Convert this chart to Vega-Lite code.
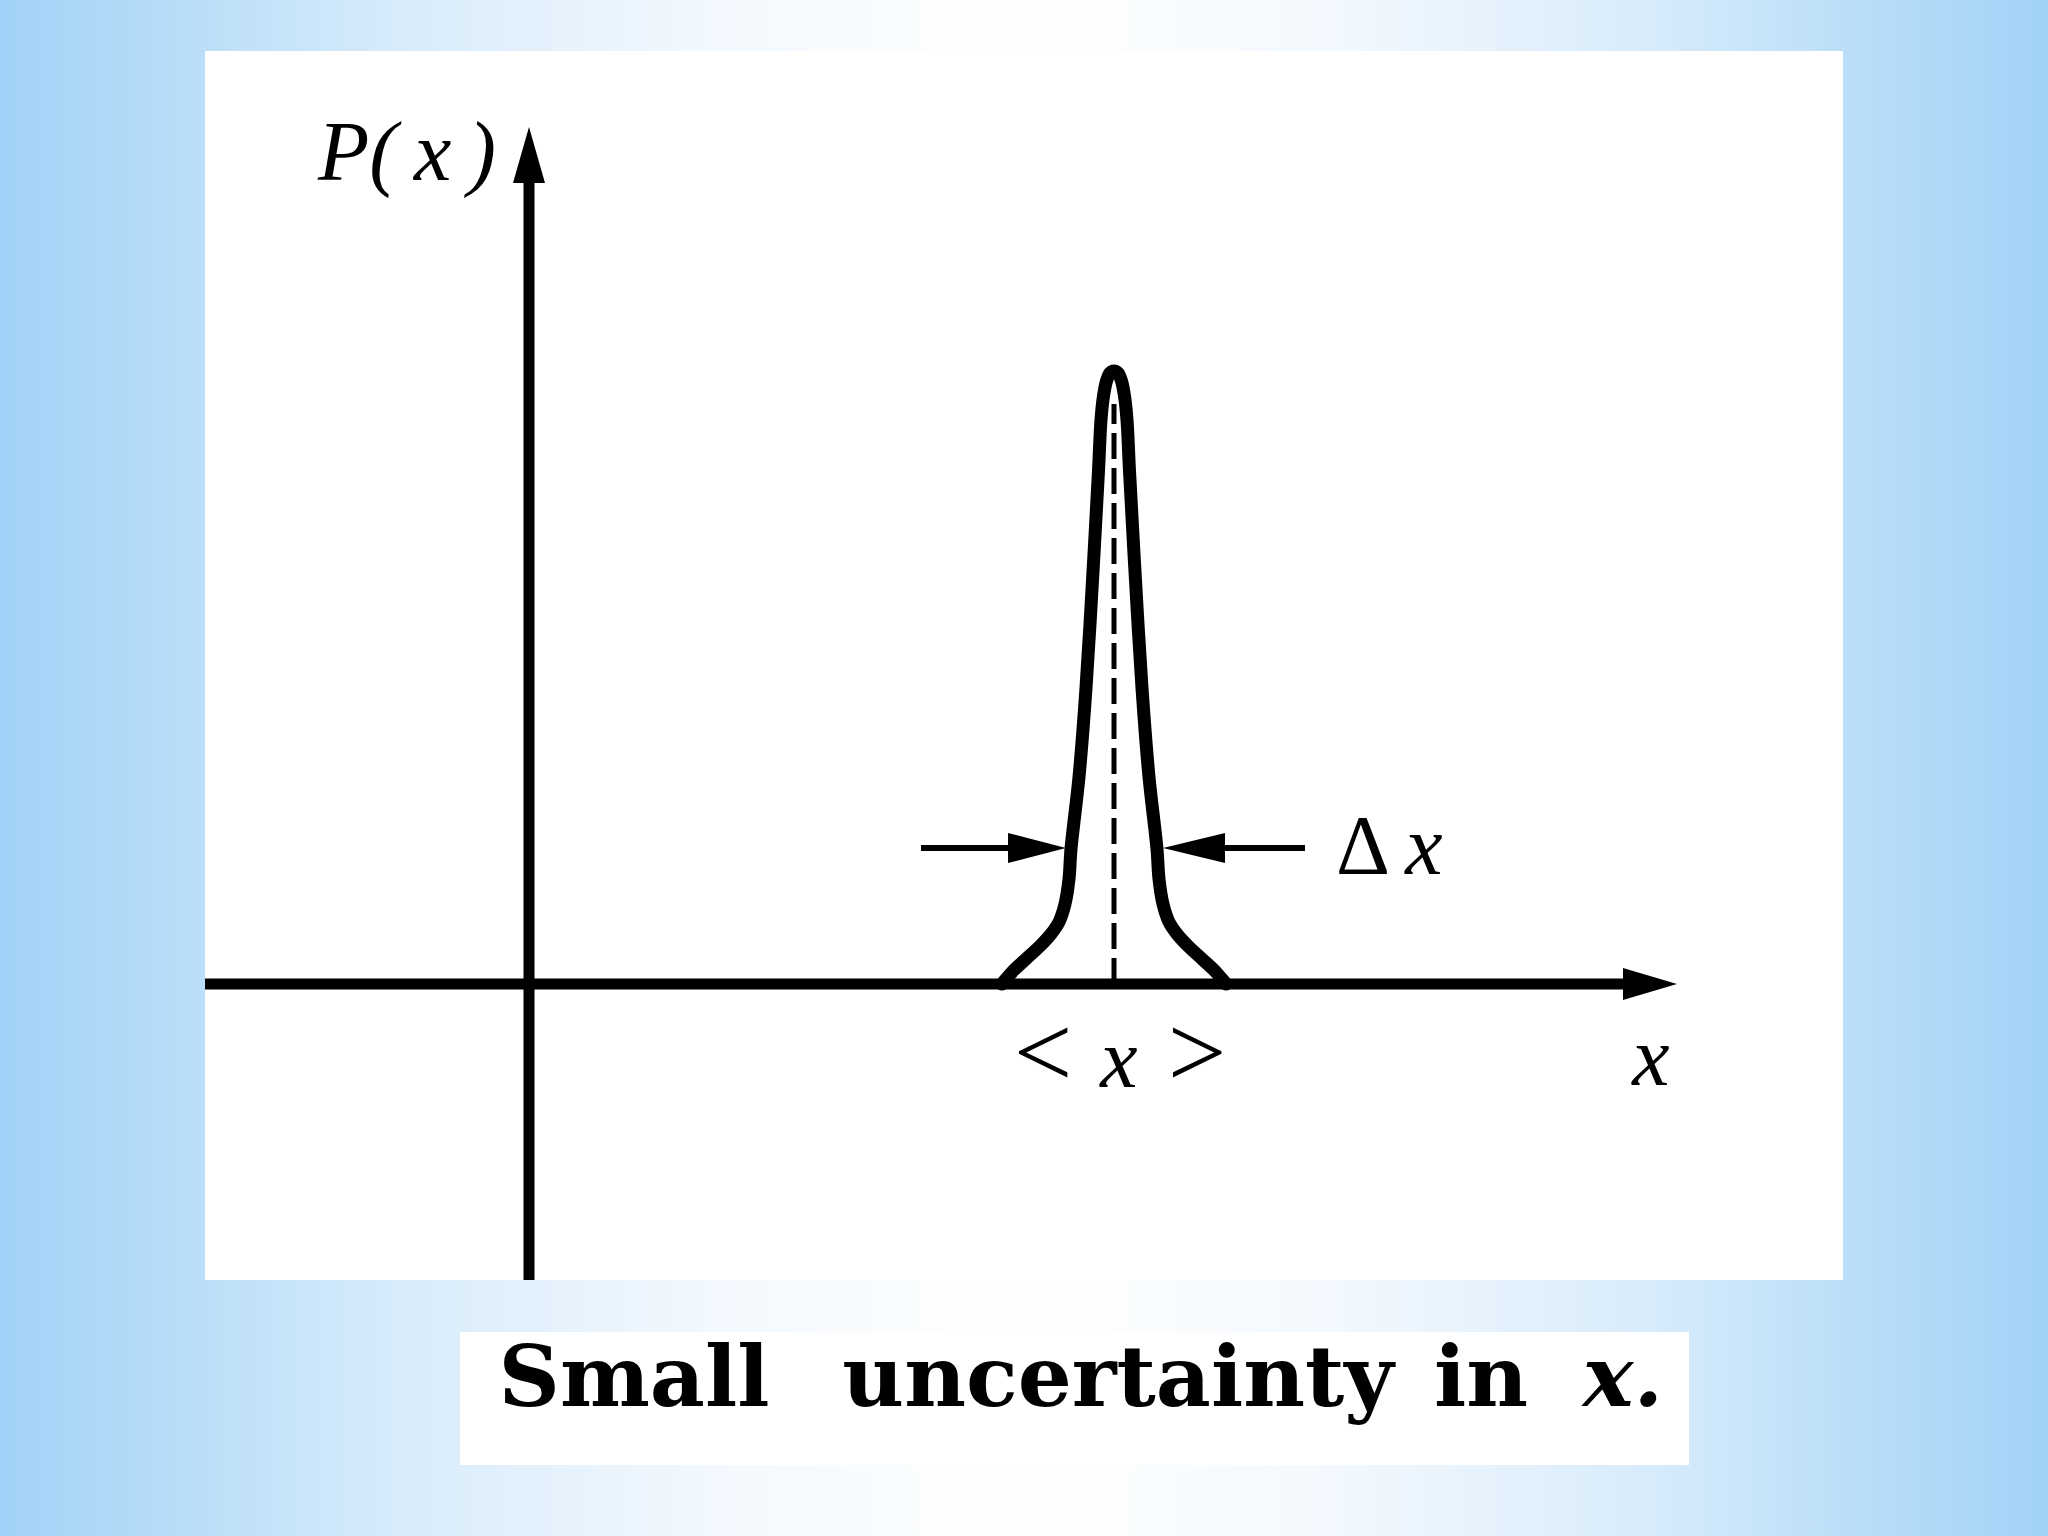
{
  "$schema": "https://vega.github.io/schema/vega-lite/v6.json",
  "autosize": {"type": "fit", "contains": "padding"},
  "width": 2048,
  "height": 1536,
  "padding": 0,
  "background": "#ffffff",
  "config": {"view": {"stroke": null}},
  "datasets": {
    "bg": [{"x": -5.29, "x2": 15.19, "y": -5.52, "y2": 9.84}],
    "panel": [{"x": -3.24, "x2": 13.14, "y": -2.96, "y2": 9.33}],
    "captionbox": [{"x": -0.69, "x2": 11.6, "y": -4.81, "y2": -3.48}],
    "axes": [
      {"x": -3.24, "x2": 11.0, "y": 0, "y2": 0},
      {"x": 0, "x2": 0, "y": -2.96, "y2": 8.05}
    ],
    "indicators": [
      {"x": 3.92, "x2": 4.9, "y": 1.36, "y2": 1.36},
      {"x": 6.85, "x2": 7.76, "y": 1.36, "y2": 1.36}
    ],
    "meanline": [{"x": 5.85, "x2": 5.85, "y": 0, "y2": 5.8}],
    "heads_h": [
      {"g": "xaxis", "x": 10.94, "lo": -0.16, "hi": 0.16},
      {"g": "xaxis", "x": 11.48, "lo": 0, "hi": 0},
      {"g": "left", "x": 4.79, "lo": 1.21, "hi": 1.51},
      {"g": "left", "x": 5.37, "lo": 1.36, "hi": 1.36},
      {"g": "right", "x": 6.34, "lo": 1.36, "hi": 1.36},
      {"g": "right", "x": 6.96, "lo": 1.21, "hi": 1.51}
    ],
    "heads_v": [
      {"y": 8.01, "lo": -0.16, "hi": 0.16},
      {"y": 8.57, "lo": 0, "hi": 0}
    ],
    "curve": [
      {"x": 4.73, "p": 0},
      {"x": 4.77, "p": 0.05},
      {"x": 4.85, "p": 0.14},
      {"x": 4.98, "p": 0.26},
      {"x": 5.11, "p": 0.38},
      {"x": 5.22, "p": 0.5},
      {"x": 5.3, "p": 0.62},
      {"x": 5.36, "p": 0.8},
      {"x": 5.4, "p": 1.05},
      {"x": 5.42, "p": 1.35},
      {"x": 5.5, "p": 2.07},
      {"x": 5.57, "p": 2.96},
      {"x": 5.65, "p": 4.3},
      {"x": 5.695, "p": 5.13},
      {"x": 5.72, "p": 5.64},
      {"x": 5.745, "p": 5.88},
      {"x": 5.775, "p": 6.03},
      {"x": 5.81, "p": 6.11},
      {"x": 5.85, "p": 6.13},
      {"x": 5.89, "p": 6.11},
      {"x": 5.925, "p": 6.03},
      {"x": 5.955, "p": 5.88},
      {"x": 5.98, "p": 5.64},
      {"x": 6.005, "p": 5.13},
      {"x": 6.05, "p": 4.3},
      {"x": 6.13, "p": 2.96},
      {"x": 6.2, "p": 2.07},
      {"x": 6.28, "p": 1.35},
      {"x": 6.3, "p": 1.05},
      {"x": 6.34, "p": 0.8},
      {"x": 6.4, "p": 0.62},
      {"x": 6.48, "p": 0.5},
      {"x": 6.59, "p": 0.38},
      {"x": 6.72, "p": 0.26},
      {"x": 6.85, "p": 0.14},
      {"x": 6.93, "p": 0.05},
      {"x": 6.97, "p": 0}
    ],
    "italic_labels": [
      {"t": "P(\u2009x\u2009)", "x": -1.22, "y": 8.04},
      {"t": "x", "x": 8.95, "y": 1.1},
      {"t": "x", "x": 5.9, "y": -1.03},
      {"t": "x", "x": 11.22, "y": -1.01}
    ],
    "upright_labels": [
      {"t": "Δ", "x": 8.34, "y": 1.1}
    ],
    "brackets": [
      {"t": "<", "x": 5.14, "y": -1.03},
      {"t": ">", "x": 6.68, "y": -1.03}
    ],
    "caption_words": [
      {"t": "Small", "x": 1.05, "y": -4.22},
      {"t": "uncertainty", "x": 5.89, "y": -4.22},
      {"t": "in", "x": 9.52, "y": -4.22}
    ],
    "caption_italic": [
      {"t": "x.", "x": 10.94, "y": -4.22}
    ]
  },
  "layer": [
    {
      "data": {"name": "bg"},
      "mark": {
        "type": "rect",
        "fill": {
          "gradient": "linear",
          "x1": 0, "x2": 1, "y1": 0, "y2": 0,
          "stops": [
            {"offset": 0, "color": "#a2d2f7"},
            {"offset": 0.07, "color": "#b3dbf8"},
            {"offset": 0.2, "color": "#d9ecfb"},
            {"offset": 0.35, "color": "#f3f9fe"},
            {"offset": 0.5, "color": "#ffffff"},
            {"offset": 0.65, "color": "#f3f9fe"},
            {"offset": 0.8, "color": "#d9ecfb"},
            {"offset": 0.93, "color": "#b3dbf8"},
            {"offset": 1, "color": "#a2d2f7"}
          ]
        }
      },
      "encoding": {
        "x": {"field": "x", "type": "quantitative", "axis": null, "scale": {"domain": [-5.29, 15.19], "nice": false, "zero": false}},
        "x2": {"field": "x2"},
        "y": {"field": "y", "type": "quantitative", "axis": null, "scale": {"domain": [-5.52, 9.84], "nice": false, "zero": false}},
        "y2": {"field": "y2"}
      }
    },
    {
      "data": {"name": "panel"},
      "mark": {"type": "rect", "fill": "#ffffff"},
      "encoding": {
        "x": {"field": "x", "type": "quantitative"},
        "x2": {"field": "x2"},
        "y": {"field": "y", "type": "quantitative"},
        "y2": {"field": "y2"}
      }
    },
    {
      "data": {"name": "captionbox"},
      "mark": {"type": "rect", "fill": "#ffffff"},
      "encoding": {
        "x": {"field": "x", "type": "quantitative"},
        "x2": {"field": "x2"},
        "y": {"field": "y", "type": "quantitative"},
        "y2": {"field": "y2"}
      }
    },
    {
      "data": {"name": "axes"},
      "mark": {"type": "rule", "color": "#000000", "strokeWidth": 11},
      "encoding": {
        "x": {"field": "x", "type": "quantitative"},
        "x2": {"field": "x2"},
        "y": {"field": "y", "type": "quantitative"},
        "y2": {"field": "y2"}
      }
    },
    {
      "data": {"name": "meanline"},
      "mark": {"type": "rule", "color": "#000000", "strokeWidth": 5, "strokeDash": [26, 9]},
      "encoding": {
        "x": {"field": "x", "type": "quantitative"},
        "x2": {"field": "x2"},
        "y": {"field": "y", "type": "quantitative"},
        "y2": {"field": "y2"}
      }
    },
    {
      "data": {"name": "indicators"},
      "mark": {"type": "rule", "color": "#000000", "strokeWidth": 6},
      "encoding": {
        "x": {"field": "x", "type": "quantitative"},
        "x2": {"field": "x2"},
        "y": {"field": "y", "type": "quantitative"},
        "y2": {"field": "y2"}
      }
    },
    {
      "data": {"name": "heads_h"},
      "mark": {"type": "area", "color": "#000000", "orient": "vertical", "interpolate": "linear"},
      "encoding": {
        "x": {"field": "x", "type": "quantitative"},
        "y": {"field": "lo", "type": "quantitative"},
        "y2": {"field": "hi"},
        "detail": {"field": "g"}
      }
    },
    {
      "data": {"name": "heads_v"},
      "mark": {"type": "area", "color": "#000000", "orient": "horizontal", "interpolate": "linear"},
      "encoding": {
        "y": {"field": "y", "type": "quantitative"},
        "x": {"field": "lo", "type": "quantitative"},
        "x2": {"field": "hi"}
      }
    },
    {
      "data": {"name": "curve"},
      "mark": {"type": "line", "color": "#000000", "strokeWidth": 13, "interpolate": "catmull-rom", "strokeCap": "round", "strokeJoin": "round"},
      "encoding": {
        "x": {"field": "x", "type": "quantitative"},
        "y": {"field": "p", "type": "quantitative"}
      }
    },
    {
      "data": {"name": "italic_labels"},
      "mark": {"type": "text", "font": "Liberation Serif", "fontStyle": "italic", "fontSize": 84, "color": "#000000", "align": "center", "baseline": "alphabetic"},
      "encoding": {
        "x": {"field": "x", "type": "quantitative"},
        "y": {"field": "y", "type": "quantitative"},
        "text": {"field": "t"}
      }
    },
    {
      "data": {"name": "upright_labels"},
      "mark": {"type": "text", "font": "Liberation Serif", "fontSize": 84, "color": "#000000", "align": "center", "baseline": "alphabetic"},
      "encoding": {
        "x": {"field": "x", "type": "quantitative"},
        "y": {"field": "y", "type": "quantitative"},
        "text": {"field": "t"}
      }
    },
    {
      "data": {"name": "brackets"},
      "mark": {"type": "text", "font": "Liberation Serif", "fontSize": 104, "color": "#000000", "align": "center", "baseline": "alphabetic"},
      "encoding": {
        "x": {"field": "x", "type": "quantitative"},
        "y": {"field": "y", "type": "quantitative"},
        "text": {"field": "t"}
      }
    },
    {
      "data": {"name": "caption_words"},
      "mark": {"type": "text", "font": "DejaVu Serif", "fontWeight": "bold", "fontSize": 85, "color": "#000000", "align": "center", "baseline": "alphabetic"},
      "encoding": {
        "x": {"field": "x", "type": "quantitative"},
        "y": {"field": "y", "type": "quantitative"},
        "text": {"field": "t"}
      }
    },
    {
      "data": {"name": "caption_italic"},
      "mark": {"type": "text", "font": "DejaVu Serif", "fontStyle": "italic", "fontWeight": "bold", "fontSize": 85, "color": "#000000", "align": "center", "baseline": "alphabetic"},
      "encoding": {
        "x": {"field": "x", "type": "quantitative"},
        "y": {"field": "y", "type": "quantitative"},
        "text": {"field": "t"}
      }
    }
  ]
}
